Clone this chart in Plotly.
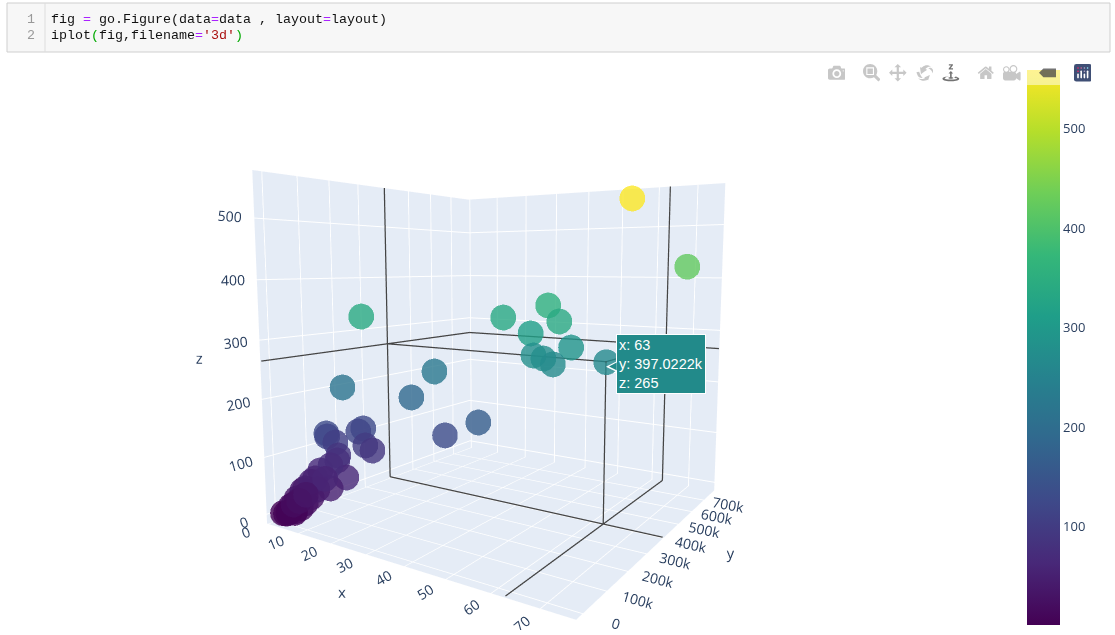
import plotly.graph_objects as go

W = 1115
H = 635

x_vals = [53.5, 74.5, 18, 40.4, 48, 58.7, 50.8, 56.9, 51.8, 53.5, 57.2, 63, 18.8, 11, 20.6, 40.4, 30.1,
          5.3, 4.4, 4.5, 7.7, 6.2, 10.6, 11.8, 6.5, 7, 12.8, 12, 5.4, 5.8, 5.4, 6.3, 6.7,
          2, 3.8, 5.3, 6.6, 3.7, 6.7, 4.3, 7.7, 4.8, 8.3, 6, 8.9,
          3, 4, 5.5, 4.5, 5.5, 6.5]
y_vals = [769000, 578700, 103000, 333000, 407000, 255000, 276000, 347000, 271000, 284000, 257000, 397022.2,
          354600, 110000, 240000, 228600, 244000,
          110000, 120600, 146000, 209800, 208000, 185000, 196700, 135000, 126000, 96000, 53500, 86000,
          65800, 38000, 9400, 106700,
          0, 0, 6800, 12900, 8900, 26300, 21700, 35500, 35100, 48300, 51200, 67200,
          0, 3000, 4000, 10000, 18000, 30000]
z_vals = [557, 422, 340, 335, 355, 338, 315, 290, 280, 275, 270, 265, 225, 215, 190, 165, 130,
          128, 120, 105, 125, 118, 100, 90, 85, 78, 60, 48, 65, 55, 42, 28, 72,
          1, 4, 8, 14, 14, 20, 26, 30, 38, 42, 52, 58,
          2, 6, 6, 18, 24, 34]

x_range = [-0.5, 76.7]
y_range = [-25000, 793000]
z_range = [-16.4, 576.4]

hover_x = 63
hover_y = 397022.2
hover_z = 265


def paper_x(px):
    return px / W


def paper_y(py):
    return 1 - py / H


def spike_lines():
    """Lines the hovered point throws on the walls and floor of the box."""
    # a hair off the walls, or the lines fight with the wall background
    x_wall = x_range[0] + 0.004 * (x_range[1] - x_range[0])
    y_wall = y_range[1] - 0.004 * (y_range[1] - y_range[0])
    z_wall = z_range[0] + 0.004 * (z_range[1] - z_range[0])
    xs, ys, zs = [], [], []
    segments = [
        # from the point to each wall
        ((hover_x, hover_y, hover_z), (x_wall, hover_y, hover_z)),
        ((hover_x, hover_y, hover_z), (hover_x, y_wall, hover_z)),
        ((hover_x, hover_y, hover_z), (hover_x, hover_y, z_wall)),
        # x wall
        ((x_wall, y_range[0], hover_z), (x_wall, y_wall, hover_z)),
        ((x_wall, hover_y, z_wall), (x_wall, hover_y, z_range[1])),
        # y wall
        ((x_wall, y_wall, hover_z), (x_range[1], y_wall, hover_z)),
        ((hover_x, y_wall, z_wall), (hover_x, y_wall, z_range[1])),
        # floor
        ((x_wall, hover_y, z_wall), (x_range[1], hover_y, z_wall)),
        ((hover_x, y_range[0], z_wall), (hover_x, y_wall, z_wall)),
    ]
    for start, end in segments:
        xs += [start[0], end[0], None]
        ys += [start[1], end[1], None]
        zs += [start[2], end[2], None]
    return xs, ys, zs


spike_x, spike_y, spike_z = spike_lines()

fig = go.Figure()

fig.add_trace(go.Scatter3d(
    x=spike_x, y=spike_y, z=spike_z,
    mode='lines',
    line=dict(color='#444444', width=2.5),
    hoverinfo='skip',
    showlegend=False
))

fig.add_trace(go.Scatter3d(
    x=x_vals, y=y_vals, z=z_vals,
    mode='markers',
    marker=dict(
        size=15,
        color=z_vals,
        colorscale='Viridis',
        cmin=1,
        cmax=559,
        opacity=0.8,
        showscale=True,
        colorbar=dict(
            lenmode='pixels',
            len=555,
            thicknessmode='pixels',
            thickness=33,
            x=paper_x(1027),
            xanchor='left',
            y=paper_y(70),
            yanchor='top',
            ypad=0,
            xpad=0,
            tickvals=[100, 200, 300, 400, 500],
            tickfont=dict(size=13),
            outlinewidth=0
        )
    ),
    showlegend=False
))

axis_common = dict(showspikes=False, tickfont=dict(size=13), title_font=dict(size=15),
                   ticks='outside', ticklen=3, tickcolor='rgba(0,0,0,0)')

code_line_1 = ('fig <span style="color:#aa22ff">=</span> go.Figure(data<span style="color:#aa22ff">=</span>data , '
               'layout<span style="color:#aa22ff">=</span>layout)')
code_line_2 = ('iplot<span style="color:#00aa00">(</span>fig,filename<span style="color:#aa22ff">=</span>'
               '<span style="color:#aa1111">\'3d\'</span><span style="color:#00aa00">)</span>')
code_font = dict(family='Liberation Mono', size=13.33, color='#111111')
gutter_font = dict(family='Liberation Mono', size=13.33, color='#999999')

annotations = [
    dict(text=code_line_1, x=paper_x(49), y=paper_y(19), font=code_font, xanchor='left', yanchor='middle'),
    dict(text=code_line_2, x=paper_x(49), y=paper_y(36), font=code_font, xanchor='left', yanchor='middle'),
    dict(text='1', x=paper_x(37), y=paper_y(19), font=gutter_font, xanchor='right', yanchor='middle'),
    dict(text='2', x=paper_x(37), y=paper_y(36), font=gutter_font, xanchor='right', yanchor='middle'),
    dict(text='◀', x=paper_x(618), y=paper_y(365), xanchor='right', yanchor='middle',
         font=dict(size=13, color='#ffffff')),
    dict(text=f'x: {hover_x}<br>y: {hover_y / 1000:.4f}k<br>z: {hover_z}',
         x=paper_x(616), y=paper_y(363.5), xanchor='left', yanchor='middle', align='left',
         bgcolor='#228a8a', bordercolor='#ffffff', borderwidth=1, borderpad=2,
         font=dict(family='Liberation Sans', size=14.5, color='#ffffff')),
    dict(text='◀', x=paper_x(619), y=paper_y(365), xanchor='right', yanchor='middle',
         font=dict(size=10, color='#228a8a')),
]
for a in annotations:
    a.update(xref='paper', yref='paper', showarrow=False)

shapes = [
    dict(type='rect', xref='paper', yref='paper',
         x0=paper_x(7), x1=paper_x(1110), y0=paper_y(3), y1=paper_y(52),
         fillcolor='#f7f7f7', line=dict(color='#cfcfcf', width=1)),
    dict(type='line', xref='paper', yref='paper',
         x0=paper_x(45), x1=paper_x(45), y0=paper_y(3), y1=paper_y(52),
         line=dict(color='#dddddd', width=1)),
]

fig.update_layout(
    width=W,
    height=H,
    autosize=False,
    margin=dict(l=0, r=0, t=0, b=0, pad=0),
    showlegend=False,
    annotations=annotations,
    shapes=shapes,
    scene=dict(
        domain=dict(x=[0, 1012 / W], y=[paper_y(630), paper_y(62)]),
        aspectmode='cube',
        xaxis=dict(title='x', range=x_range, **axis_common),
        yaxis=dict(title='y', range=y_range, **axis_common),
        zaxis=dict(title='z', range=z_range, **axis_common),
        camera=dict(
            eye=dict(x=1.12, y=-1.728, z=0.24),
            center=dict(x=0, y=0, z=0),
            up=dict(x=0, y=0, z=1)
        )
    )
)

# page margins off and the modebar down to where the plot starts under the code cell
post_script = """
document.body.style.margin = '0';
document.body.style.overflow = 'hidden';
var st = document.createElement('style');
st.innerHTML = '.modebar-container{top:59px !important;right:17px !important;}'
    + '.modebar{zoom:1.1;}'
    + '.modebar-btn.active path{fill:rgba(68,68,68,0.75) !important;}'
    + '.modebar-btn--logo rect{fill:#3f4f75 !important;}';
document.head.appendChild(st);
"""

config = {
    "displayModeBar": True,
    "modeBarButtons": [
        ["toImage"],
        ["zoom3d", "pan3d", "orbitRotation", "tableRotation"],
        ["resetCameraDefault3d", "resetCameraLastSave3d"],
        ["hoverClosest3d"],
    ],
}

fig.write_html("out.html", config=config, post_script=post_script)
